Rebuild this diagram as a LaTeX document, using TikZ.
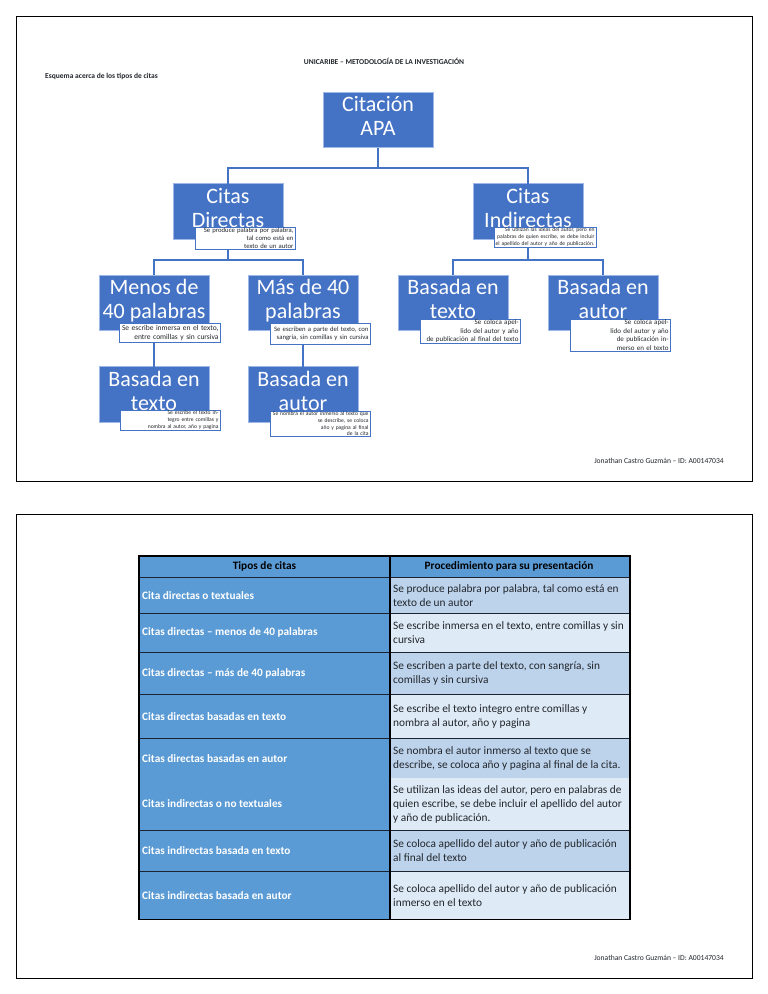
\documentclass[tikz,border=0pt]{standalone}
\usepackage{fontspec}
\setmainfont{Carlito}
\definecolor{boxblue}{HTML}{4472C4}
\definecolor{boxedge}{HTML}{9DB8E6}
\definecolor{cellblue}{HTML}{5B9BD5}
\definecolor{rowdark}{HTML}{BDD3EC}
\definecolor{rowlight}{HTML}{DEEAF6}
\definecolor{rule}{HTML}{1B2430}
\definecolor{inktext}{HTML}{22262B}
\tikzset{
  bluebox/.style={draw=boxedge,line width=0.8pt,fill=boxblue,text=white,minimum width=110pt,minimum height=55.5pt,inner sep=0pt,outer sep=0pt,align=center,font=\fontsize{22}{24}\selectfont},
  callout/.style={draw=boxblue,line width=0.8pt,fill=white,text=inktext,text width=97pt,minimum height=20pt,inner xsep=1.5pt,inner ysep=1pt,outer sep=0pt,align=right,anchor=north west,font=\fontsize{6.7}{8}\selectfont},
  tinycallout/.style={callout,font=\fontsize{5.6}{6.6}\selectfont},
  link/.style={draw=boxblue,line width=1.1pt},
  frame/.style={draw=black,line width=1.3pt,fill=white,minimum width=736pt,minimum height=465pt,inner sep=0pt,anchor=north west},
  caption/.style={font=\fontsize{7.5}{8}\bfseries\selectfont,text=inktext,inner sep=0pt},
  footer/.style={font=\fontsize{7.6}{8}\selectfont,text=inktext,inner sep=0pt,anchor=east},
  headcell/.style={font=\fontsize{11.3}{13}\bfseries\selectfont,text=black,inner sep=0pt,anchor=center},
  leftcell/.style={fill=cellblue,inner sep=0pt,outer sep=0pt,anchor=north west,minimum width=251pt},
  rightcell/.style={inner sep=0pt,outer sep=0pt,anchor=north west,minimum width=240pt},
  lefttext/.style={font=\fontsize{11.3}{13}\bfseries\selectfont,text=white,inner sep=0pt,anchor=west},
  righttext/.style={font=\fontsize{11.35}{14}\selectfont,text=inktext,inner sep=0pt,anchor=west,align=left},
  tablerule/.style={draw=rule,line width=1pt},
  tableheavy/.style={draw=black,line width=1.6pt}
}
\newcommand{\lifted}{\\[-16pt]\mbox{}}
\newcommand{\tablerow}[6]{%
  \pgfmathsetmacro{\rowh}{#3-#2}%
  \pgfmathsetmacro{\rowm}{(#3+#2)/2}%
  \node[leftcell,minimum height=\rowh pt] (L#1) at (139,#2) {};
  \node[rightcell,fill=#6,minimum height=\rowh pt] (R#1) at (390,#2) {};
  \node[lefttext] (LT#1) at (142,\rowm) {#4};
  \node[righttext] (RT#1) at (393,\rowm) {#5};
}
\begin{document}
\begin{tikzpicture}[x=1pt,y=-1pt]
\useasboundingbox (0,0) rectangle (768,994);
\fill[white] (0,0) rectangle (768,994);
\node[frame] (page1) at (16,16) {};
\node[frame,minimum height=464pt] (page2) at (16,514) {};
\node[caption] (title) at (384,61.5) {UNICARIBE – METODOLOGÍA DE LA INVESTIGACIÓN};
\node[caption,anchor=west] (scheme) at (45,76.5) {Esquema acerca de los tipos de citas};
\node[footer] (foot1) at (724,461) {Jonathan Castro Guzmán – ID: A00147034};
\node[footer] (foot2) at (724,958) {Jonathan Castro Guzmán – ID: A00147034};

\node[bluebox] (apa) at (378,120) {Citación\\APA\lifted};
\node[bluebox] (dir) at (228,211.5) {Citas\\Directas\lifted};
\node[bluebox] (ind) at (528,211.5) {Citas\\Indirectas\lifted};
\node[bluebox] (menos) at (154,303) {Menos de\\40 palabras\lifted};
\node[bluebox] (mas) at (303,303) {Más de 40\\palabras\lifted};
\node[bluebox] (itexto) at (453,303) {Basada en\\texto\lifted};
\node[bluebox] (iautor) at (603,303) {Basada en\\autor\lifted};
\node[bluebox] (dtexto) at (154,394.5) {Basada en\\texto\lifted};
\node[bluebox] (dautor) at (303,394.5) {Basada en\\autor\lifted};

\coordinate (j1) at (378,168);
\coordinate (j2) at (228,260);
\coordinate (j3) at (528,260);
\draw[link] (apa.south) -- (j1) -| (dir.north);
\draw[link] (j1) -| (ind.north);
\draw[link] (dir.south) -- (j2) -| (menos.north);
\draw[link] (j2) -| (mas.north);
\draw[link] (ind.south) -- (j3) -| (itexto.north);
\draw[link] (j3) -| (iautor.north);
\draw[link] (menos.south) -- (dtexto.north);
\draw[link] (mas.south) -- (dautor.north);

\node[callout] (cdir) at (195,227) {Se produce palabra por palabra,\\tal como está en texto de un autor};
\node[tinycallout,text width=99pt] (cind) at (494,227) {Se utilizan las ideas del autor, pero en\\palabras de quien escribe, se debe incluir\\el apellido del autor y año de publicación.};
\node[callout,text width=98pt,minimum height=19pt,font=\fontsize{7.5}{9}\selectfont] (cmenos) at (119,323) {Se escribe inmersa en el texto,\\entre comillas y sin cursiva};
\node[callout,minimum height=21pt] (cmas) at (270,323) {Se escriben a parte del texto, con\\sangría, sin comillas y sin cursiva};
\node[callout,font=\fontsize{7}{8.4}\selectfont] (citexto) at (420,319) {Se coloca apellido del autor y año\\de publicación al final del texto};
\node[callout,font=\fontsize{7}{8.4}\selectfont] (ciautor) at (570,319) {Se coloca apellido del autor y año\\de publicación inmerso en el texto};
\node[tinycallout] (cdtexto) at (120,410) {Se escribe el texto integro entre comillas y\\nombra al autor, año y pagina};
\node[tinycallout] (cdautor) at (270,411) {Se nombra el autor inmerso al texto que\\se describe, se coloca año y pagina al final\\de la cita};

\node[leftcell,minimum height=21.5pt] (headL) at (139,556) {};
\node[rightcell,fill=cellblue,minimum height=21.5pt] (headR) at (390,556) {};
\node[headcell] (headLT) at (264.5,566.8) {Tipos de citas};
\node[headcell] (headRT) at (509,566.8) {Procedimiento para su presentación};
\tablerow{a}{577.5}{613}{Cita directas o textuales}{Se produce palabra por palabra, tal como está en\\texto de un autor}{rowdark}
\tablerow{b}{613}{652}{Citas directas – menos de 40 palabras}{Se escribe inmersa en el texto, entre comillas y sin\\cursiva}{rowlight}
\tablerow{c}{652}{694}{Citas directas – más de 40 palabras}{Se escriben a parte del texto, con sangría, sin\\comillas y sin cursiva}{rowdark}
\tablerow{d}{694}{738.5}{Citas directas basadas en texto}{Se escribe el texto integro entre comillas y\\nombra al autor, año y pagina}{rowlight}
\tablerow{e}{738.5}{778}{Citas directas basadas en autor}{Se nombra el autor inmerso al texto que se\\describe, se coloca año y pagina al final de la cita.}{rowdark}
\tablerow{f}{778}{830}{Citas indirectas o no textuales}{Se utilizan las ideas del autor, pero en palabras de\\quien escribe, se debe incluir el apellido del autor\\y año de publicación.}{rowlight}
\tablerow{g}{830}{871}{Citas indirectas basada en texto}{Se coloca apellido del autor y año de publicación\\al final del texto}{rowdark}
\tablerow{h}{871}{919.5}{Citas indirectas basada en autor}{Se coloca apellido del autor y año de publicación\\inmerso en el texto}{rowlight}
\draw[tablerule] (139,577.5) -- (630,577.5);
\draw[tablerule] (139,613) -- (630,613);
\draw[tablerule] (139,652) -- (630,652);
\draw[tablerule] (139,694) -- (630,694);
\draw[tablerule] (139,738.5) -- (630,738.5);
\draw[tablerule] (139,830) -- (630,830);
\draw[tablerule] (139,871) -- (630,871);
\draw[tableheavy] (390,556) -- (390,919.5);
\draw[tableheavy] (139,556) rectangle (630,919.5);
\end{tikzpicture}
\end{document}
